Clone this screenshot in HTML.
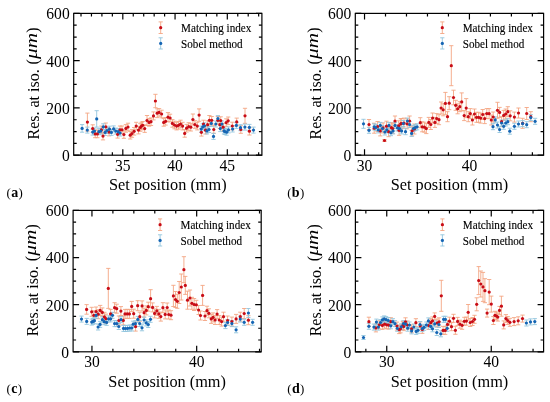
<!DOCTYPE html>
<html><head><meta charset="utf-8"><style>
html,body{margin:0;padding:0;background:#fff;}
svg{display:block;will-change:transform;}
text{font-family:"Liberation Serif",serif;fill:#000;}
.lg{stroke:#000;stroke-width:0.12px;}
</style></head><body>
<svg width="550" height="402" viewBox="0 0 550 402">
<rect width="550" height="402" fill="#fff"/>
<g id="pa"><path d="M87.4 113.1V131.1M85.3 113.1H89.5M85.3 131.1H89.5M92.7 124.8V132.4M90.6 124.8H94.8M90.6 132.4H94.8M95.2 130.1V137.7M93.1 130.1H97.3M93.1 137.7H97.3M97.4 130.1V137.7M95.3 130.1H99.5M95.3 137.7H99.5M101.4 126.1V133.7M99.3 126.1H103.5M99.3 133.7H103.5M103 132.3V139.9M100.9 132.3H105.1M100.9 139.9H105.1M105.8 123V130.6M103.7 123H107.9M103.7 130.6H107.9M109.1 128.3V135.9M107 128.3H111.2M107 135.9H111.2M117.6 130.5V138.1M115.5 130.5H119.7M115.5 138.1H119.7M120 126V133.6M117.9 126H122.1M117.9 133.6H122.1M122 126V133.6M119.9 126H124.1M119.9 133.6H124.1M123.9 130.7V138.3M121.8 130.7H126M121.8 138.3H126M125.9 124.6V132.2M123.8 124.6H128M123.8 132.2H128M128 123.2V130.8M125.9 123.2H130.1M125.9 130.8H130.1M130.2 131.4V139M128.1 131.4H132.3M128.1 139H132.3M132 129.7V137.3M129.9 129.7H134.1M129.9 137.3H134.1M134.1 127.5V135.1M132 127.5H136.2M132 135.1H136.2M136.2 122.3V129.9M134.1 122.3H138.3M134.1 129.9H138.3M138.5 126.3V133.9M136.4 126.3H140.6M136.4 133.9H140.6M140.3 123.7V131.3M138.2 123.7H142.4M138.2 131.3H142.4M141.5 122.3V129.9M139.4 122.3H143.6M139.4 129.9H143.6M142.7 121.5V129.1M140.6 121.5H144.8M140.6 129.1H144.8M144.7 124.8V132.4M142.6 124.8H146.8M142.6 132.4H146.8M147 115.5V125.5M144.9 115.5H149.1M144.9 125.5H149.1M149.1 118.6V126.2M147 118.6H151.2M147 126.2H151.2M151 117.9V125.5M148.9 117.9H153.1M148.9 125.5H153.1M153.5 111.9V119.9M151.4 111.9H155.6M151.4 119.9H155.6M155.4 94.3V107.7M153.3 94.3H157.5M153.3 107.7H157.5M157.2 108.8V117.6M155.1 108.8H159.3M155.1 117.6H159.3M159.1 108.6V116.2M157 108.6H161.2M157 116.2H161.2M161.6 110.2V117.8M159.5 110.2H163.7M159.5 117.8H163.7M163.7 118.6V126.2M161.6 118.6H165.8M161.6 126.2H165.8M165.6 117.5V125.1M163.5 117.5H167.7M163.5 125.1H167.7M168 112.6V121.8M165.9 112.6H170.1M165.9 121.8H170.1M170.1 114.2V121.8M168 114.2H172.2M168 121.8H172.2M172.4 119.6V127.2M170.3 119.6H174.5M170.3 127.2H174.5M174.5 121.2V128.8M172.4 121.2H176.6M172.4 128.8H176.6M176.6 122.3V129.9M174.5 122.3H178.7M174.5 129.9H178.7M178.5 121.5V129.1M176.4 121.5H180.6M176.4 129.1H180.6M180.5 120.2V127.8M178.4 120.2H182.6M178.4 127.8H182.6M182.6 122.3V129.9M180.5 122.3H184.7M180.5 129.9H184.7M184.7 129.6V137.2M182.6 129.6H186.8M182.6 137.2H186.8M186.6 124.4V132M184.5 124.4H188.7M184.5 132H188.7M188.7 122.7V130.3M186.6 122.7H190.8M186.6 130.3H190.8M190.8 123.4V131M188.7 123.4H192.9M188.7 131H192.9M192.9 114V125M190.8 114H195M190.8 125H195M194.9 120.7V128.3M192.8 120.7H197M192.8 128.3H197M197.3 122.3V129.9M195.2 122.3H199.4M195.2 129.9H199.4M199.1 108.9V121.3M197 108.9H201.2M197 121.3H201.2M201.4 128.5V136.1M199.3 128.5H203.5M199.3 136.1H203.5M203.5 120.2V127.8M201.4 120.2H205.6M201.4 127.8H205.6M205.5 126.4V134M203.4 126.4H207.6M203.4 134H207.6M207.6 120.9V128.5M205.5 120.9H209.7M205.5 128.5H209.7M209.4 115.5V125.1M207.3 115.5H211.5M207.3 125.1H211.5M211.7 116.5V124.1M209.6 116.5H213.8M209.6 124.1H213.8M213.8 125.7V133.3M211.7 125.7H215.9M211.7 133.3H215.9M217.9 116.5V124.1M215.8 116.5H220M215.8 124.1H220M219.9 120.9V128.5M217.8 120.9H222M217.8 128.5H222M220.7 116.8V124.4M218.6 116.8H222.8M218.6 124.4H222.8M223.1 123.4V131M221 123.4H225.2M221 131H225.2M226.2 118.8V126.4M224.1 118.8H228.3M224.1 126.4H228.3M228.2 117V124.6M226.1 117H230.3M226.1 124.6H230.3M232.3 122.2V129.8M230.2 122.2H234.4M230.2 129.8H234.4M236.7 118.1V125.7M234.6 118.1H238.8M234.6 125.7H238.8M240.8 125.7V133.3M238.7 125.7H242.9M238.7 133.3H242.9M245 108.3V123.3M242.9 108.3H247.1M242.9 123.3H247.1M249.4 127.4V135M247.3 127.4H251.5M247.3 135H251.5" stroke="#f4a582" stroke-width="0.9" fill="none"/>
<path d="M82.1 124.6V132.2M80 124.6H84.2M80 132.2H84.2M87.3 127.1V133.1M85.2 127.1H89.4M85.2 133.1H89.4M92.7 129.1V135.1M90.6 129.1H94.8M90.6 135.1H94.8M94.5 128.1V134.1M92.4 128.1H96.6M92.4 134.1H96.6M96.7 110.7V127.1M94.6 110.7H98.8M94.6 127.1H98.8M98.9 128.7V134.7M96.8 128.7H101M96.8 134.7H101M100.8 128.1V134.1M98.7 128.1H102.9M98.7 134.1H102.9M103.3 123.8V129.8M101.2 123.8H105.4M101.2 129.8H105.4M105.1 129.4V135.4M103 129.4H107.2M103 135.4H107.2M107 127.5V133.5M104.9 127.5H109.1M104.9 133.5H109.1M109.5 126.2V132.2M107.4 126.2H111.6M107.4 132.2H111.6M111.4 129.4V135.4M109.3 129.4H113.5M109.3 135.4H113.5M113.6 125.9V131.9M111.5 125.9H115.7M111.5 131.9H115.7M115.7 128.1V134.1M113.6 128.1H117.8M113.6 134.1H117.8M118.2 128.7V134.7M116.1 128.7H120.3M116.1 134.7H120.3M120.1 130V136M118 130H122.2M118 136H122.2M201.2 126.1V132.1M199.1 126.1H203.3M199.1 132.1H203.3M202.8 123.8V129.8M200.7 123.8H204.9M200.7 129.8H204.9M204.5 122.8V128.8M202.4 122.8H206.6M202.4 128.8H206.6M206.9 127.9V133.9M204.8 127.9H209M204.8 133.9H209M209 126.5V132.5M206.9 126.5H211.1M206.9 132.5H211.1M211.3 120.4V126.4M209.2 120.4H213.4M209.2 126.4H213.4M213.5 133.4V139.4M211.4 133.4H215.6M211.4 139.4H215.6M215.8 121V127M213.7 121H217.9M213.7 127H217.9M217.9 115.6V121.6M215.8 115.6H220M215.8 121.6H220M220.3 125.6V131.6M218.2 125.6H222.4M218.2 131.6H222.4M222 121V127M219.9 121H224.1M219.9 127H224.1M224 127.9V133.9M221.9 127.9H226.1M221.9 133.9H226.1M224.8 128.5V134.5M222.7 128.5H226.9M222.7 134.5H226.9M226.6 129.2V135.2M224.5 129.2H228.7M224.5 135.2H228.7M228.5 126.9V132.9M226.4 126.9H230.6M226.4 132.9H230.6M232.6 126V132M230.5 126H234.7M230.5 132H234.7M236.4 122.4V128.4M234.3 122.4H238.5M234.3 128.4H238.5M240.5 124.7V130.7M238.4 124.7H242.6M238.4 130.7H242.6M244.9 124.1V130.1M242.8 124.1H247M242.8 130.1H247M249.4 124.4V130.4M247.3 124.4H251.5M247.3 130.4H251.5M253.5 127.1V133.1M251.4 127.1H255.6M251.4 133.1H255.6" stroke="#92c5de" stroke-width="0.9" fill="none"/>
<g fill="#c80c16"><circle cx="87.4" cy="122.1" r="1.6"/><circle cx="92.7" cy="128.6" r="1.6"/><circle cx="95.2" cy="133.9" r="1.6"/><circle cx="97.4" cy="133.9" r="1.6"/><circle cx="101.4" cy="129.9" r="1.6"/><circle cx="103" cy="136.1" r="1.6"/><circle cx="105.8" cy="126.8" r="1.6"/><circle cx="109.1" cy="132.1" r="1.6"/><circle cx="117.6" cy="134.3" r="1.6"/><circle cx="120" cy="129.8" r="1.6"/><circle cx="122" cy="129.8" r="1.6"/><circle cx="123.9" cy="134.5" r="1.6"/><circle cx="125.9" cy="128.4" r="1.6"/><circle cx="128" cy="127" r="1.6"/><circle cx="130.2" cy="135.2" r="1.6"/><circle cx="132" cy="133.5" r="1.6"/><circle cx="134.1" cy="131.3" r="1.6"/><circle cx="136.2" cy="126.1" r="1.6"/><circle cx="138.5" cy="130.1" r="1.6"/><circle cx="140.3" cy="127.5" r="1.6"/><circle cx="141.5" cy="126.1" r="1.6"/><circle cx="142.7" cy="125.3" r="1.6"/><circle cx="144.7" cy="128.6" r="1.6"/><circle cx="147" cy="120.5" r="1.6"/><circle cx="149.1" cy="122.4" r="1.6"/><circle cx="151" cy="121.7" r="1.6"/><circle cx="153.5" cy="115.9" r="1.6"/><circle cx="155.4" cy="101" r="1.6"/><circle cx="157.2" cy="113.2" r="1.6"/><circle cx="159.1" cy="112.4" r="1.6"/><circle cx="161.6" cy="114" r="1.6"/><circle cx="163.7" cy="122.4" r="1.6"/><circle cx="165.6" cy="121.3" r="1.6"/><circle cx="168" cy="117.2" r="1.6"/><circle cx="170.1" cy="118" r="1.6"/><circle cx="172.4" cy="123.4" r="1.6"/><circle cx="174.5" cy="125" r="1.6"/><circle cx="176.6" cy="126.1" r="1.6"/><circle cx="178.5" cy="125.3" r="1.6"/><circle cx="180.5" cy="124" r="1.6"/><circle cx="182.6" cy="126.1" r="1.6"/><circle cx="184.7" cy="133.4" r="1.6"/><circle cx="186.6" cy="128.2" r="1.6"/><circle cx="188.7" cy="126.5" r="1.6"/><circle cx="190.8" cy="127.2" r="1.6"/><circle cx="192.9" cy="119.5" r="1.6"/><circle cx="194.9" cy="124.5" r="1.6"/><circle cx="197.3" cy="126.1" r="1.6"/><circle cx="199.1" cy="115.1" r="1.6"/><circle cx="201.4" cy="132.3" r="1.6"/><circle cx="203.5" cy="124" r="1.6"/><circle cx="205.5" cy="130.2" r="1.6"/><circle cx="207.6" cy="124.7" r="1.6"/><circle cx="209.4" cy="120.3" r="1.6"/><circle cx="211.7" cy="120.3" r="1.6"/><circle cx="213.8" cy="129.5" r="1.6"/><circle cx="217.9" cy="120.3" r="1.6"/><circle cx="219.9" cy="124.7" r="1.6"/><circle cx="220.7" cy="120.6" r="1.6"/><circle cx="223.1" cy="127.2" r="1.6"/><circle cx="226.2" cy="122.6" r="1.6"/><circle cx="228.2" cy="120.8" r="1.6"/><circle cx="232.3" cy="126" r="1.6"/><circle cx="236.7" cy="121.9" r="1.6"/><circle cx="240.8" cy="129.5" r="1.6"/><circle cx="245" cy="115.8" r="1.6"/><circle cx="249.4" cy="131.2" r="1.6"/></g>
<g fill="#1565b4"><circle cx="82.1" cy="128.4" r="1.6"/><circle cx="87.3" cy="130.1" r="1.6"/><circle cx="92.7" cy="132.1" r="1.6"/><circle cx="94.5" cy="131.1" r="1.6"/><circle cx="96.7" cy="118.9" r="1.6"/><circle cx="98.9" cy="131.7" r="1.6"/><circle cx="100.8" cy="131.1" r="1.6"/><circle cx="103.3" cy="126.8" r="1.6"/><circle cx="105.1" cy="132.4" r="1.6"/><circle cx="107" cy="130.5" r="1.6"/><circle cx="109.5" cy="129.2" r="1.6"/><circle cx="111.4" cy="132.4" r="1.6"/><circle cx="113.6" cy="128.9" r="1.6"/><circle cx="115.7" cy="131.1" r="1.6"/><circle cx="118.2" cy="131.7" r="1.6"/><circle cx="120.1" cy="133" r="1.6"/><circle cx="201.2" cy="129.1" r="1.6"/><circle cx="202.8" cy="126.8" r="1.6"/><circle cx="204.5" cy="125.8" r="1.6"/><circle cx="206.9" cy="130.9" r="1.6"/><circle cx="209" cy="129.5" r="1.6"/><circle cx="211.3" cy="123.4" r="1.6"/><circle cx="213.5" cy="136.4" r="1.6"/><circle cx="215.8" cy="124" r="1.6"/><circle cx="217.9" cy="118.6" r="1.6"/><circle cx="220.3" cy="128.6" r="1.6"/><circle cx="222" cy="124" r="1.6"/><circle cx="224" cy="130.9" r="1.6"/><circle cx="224.8" cy="131.5" r="1.6"/><circle cx="226.6" cy="132.2" r="1.6"/><circle cx="228.5" cy="129.9" r="1.6"/><circle cx="232.6" cy="129" r="1.6"/><circle cx="236.4" cy="125.4" r="1.6"/><circle cx="240.5" cy="127.7" r="1.6"/><circle cx="244.9" cy="127.1" r="1.6"/><circle cx="249.4" cy="127.4" r="1.6"/><circle cx="253.5" cy="130.1" r="1.6"/></g>
<rect x="73.7" y="13.4" width="188.2" height="141.8" fill="none" stroke="#000" stroke-width="1.2"/>
<path d="M81.01 155.2v-3M81.01 13.4v3M91.46 155.2v-3M91.46 13.4v3M101.91 155.2v-3M101.91 13.4v3M112.36 155.2v-3M112.36 13.4v3M122.81 155.2v-6M122.81 13.4v6M133.26 155.2v-3M133.26 13.4v3M143.71 155.2v-3M143.71 13.4v3M154.16 155.2v-3M154.16 13.4v3M164.61 155.2v-3M164.61 13.4v3M175.06 155.2v-6M175.06 13.4v6M185.51 155.2v-3M185.51 13.4v3M195.96 155.2v-3M195.96 13.4v3M206.41 155.2v-3M206.41 13.4v3M216.86 155.2v-3M216.86 13.4v3M227.31 155.2v-6M227.31 13.4v6M237.76 155.2v-3M237.76 13.4v3M248.21 155.2v-3M248.21 13.4v3M258.66 155.2v-3M258.66 13.4v3M73.7 155.2h6M261.9 155.2h-6M73.7 143.38h3M261.9 143.38h-3M73.7 131.57h3M261.9 131.57h-3M73.7 119.75h3M261.9 119.75h-3M73.7 107.93h6M261.9 107.93h-6M73.7 96.12h3M261.9 96.12h-3M73.7 84.3h3M261.9 84.3h-3M73.7 72.48h3M261.9 72.48h-3M73.7 60.67h6M261.9 60.67h-6M73.7 48.85h3M261.9 48.85h-3M73.7 37.03h3M261.9 37.03h-3M73.7 25.22h3M261.9 25.22h-3M73.7 13.4h6M261.9 13.4h-6" stroke="#000" stroke-width="1.2" fill="none"/>
<text transform="translate(122.81 170.8) scale(1 1.06)" font-size="15.6" text-anchor="middle">35</text>
<text transform="translate(175.06 170.8) scale(1 1.06)" font-size="15.6" text-anchor="middle">40</text>
<text transform="translate(227.31 170.8) scale(1 1.06)" font-size="15.6" text-anchor="middle">45</text>
<text transform="translate(69.7 161.1) scale(1 1.06)" font-size="15.6" text-anchor="end">0</text>
<text transform="translate(69.7 113.83) scale(1 1.06)" font-size="15.6" text-anchor="end">200</text>
<text transform="translate(69.7 66.57) scale(1 1.06)" font-size="15.6" text-anchor="end">400</text>
<text transform="translate(69.7 19.3) scale(1 1.06)" font-size="15.6" text-anchor="end">600</text>
<text x="167.8" y="190" font-size="16.3" text-anchor="middle">Set position (mm)</text>
<g transform="translate(38.9 0) rotate(-90)" font-size="16"><text x="-139.5" y="0">Res. at iso.</text><text x="-64.4" y="-1.2">(</text><text x="-58.9" y="-2.2" font-style="italic" textLength="26" lengthAdjust="spacingAndGlyphs">μm</text><text x="-32.7" y="-1.2">)</text></g>
<path d="M160.7 21.9V33.5M158.6 21.9H162.8M158.6 33.5H162.8" stroke="#f4a582" stroke-width="0.9" fill="none"/>
<circle cx="160.7" cy="27.7" r="1.6" fill="#c80c16"/>
<path d="M160.7 37.8V49M158.6 37.8H162.8M158.6 49H162.8" stroke="#92c5de" stroke-width="0.9" fill="none"/>
<circle cx="160.7" cy="43.4" r="1.6" fill="#1565b4"/>
<text transform="translate(181.1 31.8) scale(1 1.12)" font-size="11.15" class="lg">Matching index</text>
<text transform="translate(181.1 47.6) scale(1 1.12)" font-size="11.15" class="lg">Sobel method</text>
<text x="6.6" y="196.9" font-size="14" style="stroke:none"><tspan font-size="12.9">(</tspan><tspan font-weight="bold" dx="0.3">a</tspan><tspan font-size="12.9" dx="0.3">)</tspan></text></g>
<g id="pb"><path d="M369 119.5V129.5M366.9 119.5H371.1M366.9 129.5H371.1M374.2 123.2V133.2M372.1 123.2H376.3M372.1 133.2H376.3M377.6 121.5V131.5M375.5 121.5H379.7M375.5 131.5H379.7M380.3 125.9V135.9M378.2 125.9H382.4M378.2 135.9H382.4M383.1 122.9V132.9M381 122.9H385.2M381 132.9H385.2M384.5 139.5V141.5M382.4 139.5H386.6M382.4 141.5H386.6M386.5 121.2V131.2M384.4 121.2H388.6M384.4 131.2H388.6M388.6 126.7V136.7M386.5 126.7H390.7M386.5 136.7H390.7M391.3 122.6V132.6M389.2 122.6H393.4M389.2 132.6H393.4M392.7 123.6V133.6M390.6 123.6H394.8M390.6 133.6H394.8M395 116V126M392.9 116H397.1M392.9 126H397.1M398.6 120.8V130.8M396.5 120.8H400.7M396.5 130.8H400.7M399.1 125.3V135.3M397 125.3H401.2M397 135.3H401.2M400.7 118.8V128.8M398.6 118.8H402.8M398.6 128.8H402.8M401.3 118.5V128.5M399.2 118.5H403.4M399.2 128.5H403.4M404 118.1V128.1M401.9 118.1H406.1M401.9 128.1H406.1M407.1 118.8V128.8M405 118.8H409.2M405 128.8H409.2M409.6 116V126M407.5 116H411.7M407.5 126H411.7M412.1 125.9V135.9M410 125.9H414.2M410 135.9H414.2M414.4 124V134M412.3 124H416.5M412.3 134H416.5M420.3 117.7V127.7M418.2 117.7H422.4M418.2 127.7H422.4M422.2 121.8V131.8M420.1 121.8H424.3M420.1 131.8H424.3M424.4 122.2V132.2M422.3 122.2H426.5M422.3 132.2H426.5M426.3 123.6V133.6M424.2 123.6H428.4M424.2 133.6H428.4M428.8 117.4V127.4M426.7 117.4H430.9M426.7 127.4H430.9M430.8 119.5V129.5M428.7 119.5H432.9M428.7 129.5H432.9M432.6 113V123M430.5 113H434.7M430.5 123H434.7M434.9 117.4V127.4M432.8 117.4H437M432.8 127.4H437M436.7 113.6V123.6M434.6 113.6H438.8M434.6 123.6H438.8M439 114.7V124.7M436.9 114.7H441.1M436.9 124.7H441.1M441.1 102V114M439 102H443.2M439 114H443.2M443.2 103.8V115.8M441.1 103.8H445.3M441.1 115.8H445.3M445.4 92.4V114.4M443.3 92.4H447.5M443.3 114.4H447.5M447.5 111.7V121.7M445.4 111.7H449.6M445.4 121.7H449.6M449.2 96.7V109.7M447.1 96.7H451.3M447.1 109.7H451.3M451.3 45.7V85.7M449.2 45.7H453.4M449.2 85.7H453.4M453.5 90.2V104.8M451.4 90.2H455.6M451.4 104.8H455.6M455.7 100.3V110.3M453.6 100.3H457.8M453.6 110.3H457.8M457.6 103.8V113.8M455.5 103.8H459.7M455.5 113.8H459.7M459.8 101.7V111.7M457.7 101.7H461.9M457.7 111.7H461.9M461.7 92.9V110.9M459.6 92.9H463.8M459.6 110.9H463.8M464.2 110.6V120.6M462.1 110.6H466.3M462.1 120.6H466.3M466.2 98.6V117.6M464.1 98.6H468.3M464.1 117.6H468.3M468.3 111.7V121.7M466.2 111.7H470.4M466.2 121.7H470.4M470.3 108.6V118.6M468.2 108.6H472.4M468.2 118.6H472.4M472.4 115V125M470.3 115H474.5M470.3 125H474.5M474.5 109V119M472.4 109H476.6M472.4 119H476.6M476.5 112.3V122.3M474.4 112.3H478.6M474.4 122.3H478.6M478.6 112.3V122.3M476.5 112.3H480.7M476.5 122.3H480.7M480.6 113.1V123.1M478.5 113.1H482.7M478.5 123.1H482.7M482.7 109.5V119.5M480.6 109.5H484.8M480.6 119.5H484.8M484.7 113.6V123.6M482.6 113.6H486.8M482.6 123.6H486.8M486.8 108.6V118.6M484.7 108.6H488.9M484.7 118.6H488.9M489.1 108.6V118.6M487 108.6H491.2M487 118.6H491.2M491.3 115V125M489.2 115H493.4M489.2 125H493.4M493.2 112V122M491.1 112H495.3M491.1 122H495.3M497.5 102.3V118.3M495.4 102.3H499.6M495.4 118.3H499.6M499.6 107.4V117.4M497.5 107.4H501.7M497.5 117.4H501.7M501.6 116.7V126.7M499.5 116.7H503.7M499.5 126.7H503.7M503.7 110.4V120.4M501.6 110.4H505.8M501.6 120.4H505.8M505.7 109V119M503.6 109H507.8M503.6 119H507.8M507.8 106.7V116.7M505.7 106.7H509.9M505.7 116.7H509.9M510.2 110.8V120.8M508.1 110.8H512.3M508.1 120.8H512.3M514.4 112.1V122.1M512.3 112.1H516.5M512.3 122.1H516.5M518.5 108V118M516.4 108H520.6M516.4 118H520.6M522.6 118.3V128.3M520.5 118.3H524.7M520.5 128.3H524.7M526.7 107.5V119.5M524.6 107.5H528.8M524.6 119.5H528.8M530.8 111.7V121.7M528.7 111.7H532.9M528.7 121.7H532.9" stroke="#f4a582" stroke-width="0.9" fill="none"/>
<path d="M363.5 119.3V128.3M361.4 119.3H365.6M361.4 128.3H365.6M369 127.3V133.3M366.9 127.3H371.1M366.9 133.3H371.1M374.2 123.8V129.8M372.1 123.8H376.3M372.1 129.8H376.3M375.8 124.6V130.6M373.7 124.6H377.9M373.7 130.6H377.9M378.3 126.9V132.9M376.2 126.9H380.4M376.2 132.9H380.4M380.3 122.4V128.4M378.2 122.4H382.4M378.2 128.4H382.4M382.4 125.6V131.6M380.3 125.6H384.5M380.3 131.6H384.5M384.9 129V135M382.8 129H387M382.8 135H387M386.8 126.9V132.9M384.7 126.9H388.9M384.7 132.9H388.9M389 122.4V128.4M386.9 122.4H391.1M386.9 128.4H391.1M390.9 129.7V135.7M388.8 129.7H393M388.8 135.7H393M393.1 127.9V133.9M391 127.9H395.2M391 133.9H395.2M395 122.4V128.4M392.9 122.4H397.1M392.9 128.4H397.1M397.5 124.9V130.9M395.4 124.9H399.6M395.4 130.9H399.6M399.5 125.6V131.6M397.4 125.6H401.6M397.4 131.6H401.6M401.6 127.9V133.9M399.5 127.9H403.7M399.5 133.9H403.7M403.3 120.5V126.5M401.2 120.5H405.4M401.2 126.5H405.4M405.5 128.7V134.7M403.4 128.7H407.6M403.4 134.7H407.6M407.5 118V124M405.4 118H409.6M405.4 124H409.6M409.6 121.5V127.5M407.5 121.5H411.7M407.5 127.5H411.7M411.6 130.4V136.4M409.5 130.4H413.7M409.5 136.4H413.7M413.4 125.6V131.6M411.3 125.6H415.5M411.3 131.6H415.5M415.3 124.6V130.6M413.2 124.6H417.4M413.2 130.6H417.4M417.1 123.8V129.8M415 123.8H419.2M415 129.8H419.2M493 123.7V129.7M490.9 123.7H495.1M490.9 129.7H495.1M495.2 116.9V122.9M493.1 116.9H497.3M493.1 122.9H497.3M497.5 122V128M495.4 122H499.6M495.4 128H499.6M499.6 126.5V132.5M497.5 126.5H501.7M497.5 132.5H501.7M501.6 120V126M499.5 120H503.7M499.5 126H503.7M503.7 123.3V129.3M501.6 123.3H505.8M501.6 129.3H505.8M505.7 120V126M503.6 120H507.8M503.6 126H507.8M507.8 118.7V124.7M505.7 118.7H509.9M505.7 124.7H509.9M509.8 128.2V134.2M507.7 128.2H511.9M507.7 134.2H511.9M514.4 123.3V129.3M512.3 123.3H516.5M512.3 129.3H516.5M518.5 121V127M516.4 121H520.6M516.4 127H520.6M522.6 120.6V126.6M520.5 120.6H524.7M520.5 126.6H524.7M526.7 121.7V127.7M524.6 121.7H528.8M524.6 127.7H528.8M530.8 114.6V120.6M528.7 114.6H532.9M528.7 120.6H532.9M535.1 118.3V124.3M533 118.3H537.2M533 124.3H537.2" stroke="#92c5de" stroke-width="0.9" fill="none"/>
<g fill="#c80c16"><circle cx="369" cy="124.5" r="1.6"/><circle cx="374.2" cy="128.2" r="1.6"/><circle cx="377.6" cy="126.5" r="1.6"/><circle cx="380.3" cy="130.9" r="1.6"/><circle cx="383.1" cy="127.9" r="1.6"/><circle cx="384.5" cy="140.5" r="1.6"/><circle cx="386.5" cy="126.2" r="1.6"/><circle cx="388.6" cy="131.7" r="1.6"/><circle cx="391.3" cy="127.6" r="1.6"/><circle cx="392.7" cy="128.6" r="1.6"/><circle cx="395" cy="121" r="1.6"/><circle cx="398.6" cy="125.8" r="1.6"/><circle cx="399.1" cy="130.3" r="1.6"/><circle cx="400.7" cy="123.8" r="1.6"/><circle cx="401.3" cy="123.5" r="1.6"/><circle cx="404" cy="123.1" r="1.6"/><circle cx="407.1" cy="123.8" r="1.6"/><circle cx="409.6" cy="121" r="1.6"/><circle cx="412.1" cy="130.9" r="1.6"/><circle cx="414.4" cy="129" r="1.6"/><circle cx="420.3" cy="122.7" r="1.6"/><circle cx="422.2" cy="126.8" r="1.6"/><circle cx="424.4" cy="127.2" r="1.6"/><circle cx="426.3" cy="128.6" r="1.6"/><circle cx="428.8" cy="122.4" r="1.6"/><circle cx="430.8" cy="124.5" r="1.6"/><circle cx="432.6" cy="118" r="1.6"/><circle cx="434.9" cy="122.4" r="1.6"/><circle cx="436.7" cy="118.6" r="1.6"/><circle cx="439" cy="119.7" r="1.6"/><circle cx="441.1" cy="108" r="1.6"/><circle cx="443.2" cy="109.8" r="1.6"/><circle cx="445.4" cy="103.4" r="1.6"/><circle cx="447.5" cy="116.7" r="1.6"/><circle cx="449.2" cy="103.2" r="1.6"/><circle cx="451.3" cy="65.7" r="1.6"/><circle cx="453.5" cy="97.5" r="1.6"/><circle cx="455.7" cy="105.3" r="1.6"/><circle cx="457.6" cy="108.8" r="1.6"/><circle cx="459.8" cy="106.7" r="1.6"/><circle cx="461.7" cy="101.9" r="1.6"/><circle cx="464.2" cy="115.6" r="1.6"/><circle cx="466.2" cy="108.1" r="1.6"/><circle cx="468.3" cy="116.7" r="1.6"/><circle cx="470.3" cy="113.6" r="1.6"/><circle cx="472.4" cy="120" r="1.6"/><circle cx="474.5" cy="114" r="1.6"/><circle cx="476.5" cy="117.3" r="1.6"/><circle cx="478.6" cy="117.3" r="1.6"/><circle cx="480.6" cy="118.1" r="1.6"/><circle cx="482.7" cy="114.5" r="1.6"/><circle cx="484.7" cy="118.6" r="1.6"/><circle cx="486.8" cy="113.6" r="1.6"/><circle cx="489.1" cy="113.6" r="1.6"/><circle cx="491.3" cy="120" r="1.6"/><circle cx="493.2" cy="117" r="1.6"/><circle cx="497.5" cy="110.3" r="1.6"/><circle cx="499.6" cy="112.4" r="1.6"/><circle cx="501.6" cy="121.7" r="1.6"/><circle cx="503.7" cy="115.4" r="1.6"/><circle cx="505.7" cy="114" r="1.6"/><circle cx="507.8" cy="111.7" r="1.6"/><circle cx="510.2" cy="115.8" r="1.6"/><circle cx="514.4" cy="117.1" r="1.6"/><circle cx="518.5" cy="113" r="1.6"/><circle cx="522.6" cy="123.3" r="1.6"/><circle cx="526.7" cy="113.5" r="1.6"/><circle cx="530.8" cy="116.7" r="1.6"/></g>
<g fill="#1565b4"><circle cx="363.5" cy="123.8" r="1.6"/><circle cx="369" cy="130.3" r="1.6"/><circle cx="374.2" cy="126.8" r="1.6"/><circle cx="375.8" cy="127.6" r="1.6"/><circle cx="378.3" cy="129.9" r="1.6"/><circle cx="380.3" cy="125.4" r="1.6"/><circle cx="382.4" cy="128.6" r="1.6"/><circle cx="384.9" cy="132" r="1.6"/><circle cx="386.8" cy="129.9" r="1.6"/><circle cx="389" cy="125.4" r="1.6"/><circle cx="390.9" cy="132.7" r="1.6"/><circle cx="393.1" cy="130.9" r="1.6"/><circle cx="395" cy="125.4" r="1.6"/><circle cx="397.5" cy="127.9" r="1.6"/><circle cx="399.5" cy="128.6" r="1.6"/><circle cx="401.6" cy="130.9" r="1.6"/><circle cx="403.3" cy="123.5" r="1.6"/><circle cx="405.5" cy="131.7" r="1.6"/><circle cx="407.5" cy="121" r="1.6"/><circle cx="409.6" cy="124.5" r="1.6"/><circle cx="411.6" cy="133.4" r="1.6"/><circle cx="413.4" cy="128.6" r="1.6"/><circle cx="415.3" cy="127.6" r="1.6"/><circle cx="417.1" cy="126.8" r="1.6"/><circle cx="493" cy="126.7" r="1.6"/><circle cx="495.2" cy="119.9" r="1.6"/><circle cx="497.5" cy="125" r="1.6"/><circle cx="499.6" cy="129.5" r="1.6"/><circle cx="501.6" cy="123" r="1.6"/><circle cx="503.7" cy="126.3" r="1.6"/><circle cx="505.7" cy="123" r="1.6"/><circle cx="507.8" cy="121.7" r="1.6"/><circle cx="509.8" cy="131.2" r="1.6"/><circle cx="514.4" cy="126.3" r="1.6"/><circle cx="518.5" cy="124" r="1.6"/><circle cx="522.6" cy="123.6" r="1.6"/><circle cx="526.7" cy="124.7" r="1.6"/><circle cx="530.8" cy="117.6" r="1.6"/><circle cx="535.1" cy="121.3" r="1.6"/></g>
<rect x="355.3" y="13.4" width="188.3" height="141.8" fill="none" stroke="#000" stroke-width="1.2"/>
<path d="M364.53 155.2v-6M364.53 13.4v6M385.51 155.2v-3M385.51 13.4v3M406.49 155.2v-3M406.49 13.4v3M427.47 155.2v-3M427.47 13.4v3M448.45 155.2v-3M448.45 13.4v3M469.43 155.2v-6M469.43 13.4v6M490.41 155.2v-3M490.41 13.4v3M511.39 155.2v-3M511.39 13.4v3M532.38 155.2v-3M532.38 13.4v3M355.3 155.2h6M543.6 155.2h-6M355.3 143.38h3M543.6 143.38h-3M355.3 131.57h3M543.6 131.57h-3M355.3 119.75h3M543.6 119.75h-3M355.3 107.93h6M543.6 107.93h-6M355.3 96.12h3M543.6 96.12h-3M355.3 84.3h3M543.6 84.3h-3M355.3 72.48h3M543.6 72.48h-3M355.3 60.67h6M543.6 60.67h-6M355.3 48.85h3M543.6 48.85h-3M355.3 37.03h3M543.6 37.03h-3M355.3 25.22h3M543.6 25.22h-3M355.3 13.4h6M543.6 13.4h-6" stroke="#000" stroke-width="1.2" fill="none"/>
<text transform="translate(364.53 170.8) scale(1 1.06)" font-size="15.6" text-anchor="middle">30</text>
<text transform="translate(469.43 170.8) scale(1 1.06)" font-size="15.6" text-anchor="middle">40</text>
<text transform="translate(351.3 161.1) scale(1 1.06)" font-size="15.6" text-anchor="end">0</text>
<text transform="translate(351.3 113.83) scale(1 1.06)" font-size="15.6" text-anchor="end">200</text>
<text transform="translate(351.3 66.57) scale(1 1.06)" font-size="15.6" text-anchor="end">400</text>
<text transform="translate(351.3 19.3) scale(1 1.06)" font-size="15.6" text-anchor="end">600</text>
<text x="449.45" y="190" font-size="16.3" text-anchor="middle">Set position (mm)</text>
<g transform="translate(320.5 0) rotate(-90)" font-size="16"><text x="-139.5" y="0">Res. at iso.</text><text x="-64.4" y="-1.2">(</text><text x="-58.9" y="-2.2" font-style="italic" textLength="26" lengthAdjust="spacingAndGlyphs">μm</text><text x="-32.7" y="-1.2">)</text></g>
<path d="M442.3 21.9V33.5M440.2 21.9H444.4M440.2 33.5H444.4" stroke="#f4a582" stroke-width="0.9" fill="none"/>
<circle cx="442.3" cy="27.7" r="1.6" fill="#c80c16"/>
<path d="M442.3 37.8V49M440.2 37.8H444.4M440.2 49H444.4" stroke="#92c5de" stroke-width="0.9" fill="none"/>
<circle cx="442.3" cy="43.4" r="1.6" fill="#1565b4"/>
<text transform="translate(462.7 31.8) scale(1 1.12)" font-size="11.15" class="lg">Matching index</text>
<text transform="translate(462.7 47.6) scale(1 1.12)" font-size="11.15" class="lg">Sobel method</text>
<text x="287.2" y="196.9" font-size="14" style="stroke:none"><tspan font-size="12.9">(</tspan><tspan font-weight="bold" dx="0.3">b</tspan><tspan font-size="12.9" dx="0.3">)</tspan></text></g>
<g id="pc"><path d="M86.6 304.6V314.2M84.5 304.6H88.7M84.5 314.2H88.7M91.7 307.3V316.3M89.6 307.3H93.8M89.6 316.3H93.8M93.8 310.8V319.8M91.7 310.8H95.9M91.7 319.8H95.9M96.1 307V316M94 307H98.2M94 316H98.2M98.2 309.7V318.7M96.1 309.7H100.3M96.1 318.7H100.3M100.2 305.4V315.4M98.1 305.4H102.3M98.1 315.4H102.3M102.3 307.9V316.9M100.2 307.9H104.4M100.2 316.9H104.4M104.4 312.3V321.3M102.3 312.3H106.5M102.3 321.3H106.5M105.9 314.1V323.1M103.8 314.1H108M103.8 323.1H108M108.3 268.4V308.4M106.2 268.4H110.4M106.2 308.4H110.4M110.6 309.4V318.4M108.5 309.4H112.7M108.5 318.4H112.7M114.6 302.7V312.7M112.5 302.7H116.7M112.5 312.7H116.7M116.7 304.2V313.2M114.6 304.2H118.8M114.6 313.2H118.8M118.9 316V325M116.8 316H121M116.8 325H121M120.9 306.6V315.6M118.8 306.6H123M118.8 315.6H123M123.3 315.9V324.9M121.2 315.9H125.4M121.2 324.9H125.4M125 309.4V318.4M122.9 309.4H127.1M122.9 318.4H127.1M127.2 309.4V318.4M125.1 309.4H129.3M125.1 318.4H129.3M129.4 309.4V318.4M127.3 309.4H131.5M127.3 318.4H131.5M131.7 301.4V311.4M129.6 301.4H133.8M129.6 311.4H133.8M133.7 309.2V318.2M131.6 309.2H135.8M131.6 318.2H135.8M135.6 322.1V331.1M133.5 322.1H137.7M133.5 331.1H137.7M137.7 300.7V310.7M135.6 300.7H139.8M135.6 310.7H139.8M139.8 312.2V321.2M137.7 312.2H141.9M137.7 321.2H141.9M142.1 300.9V310.9M140 300.9H144.2M140 310.9H144.2M144.1 308.2V317.2M142 308.2H146.2M142 317.2H146.2M146.3 305.9V314.9M144.2 305.9H148.4M144.2 314.9H148.4M148.3 302.2V311.2M146.2 302.2H150.4M146.2 311.2H150.4M150.6 289.7V307.7M148.5 289.7H152.7M148.5 307.7H152.7M152.6 302.9V311.9M150.5 302.9H154.7M150.5 311.9H154.7M154.6 308.9V317.9M152.5 308.9H156.7M152.5 317.9H156.7M156.8 306.4V315.4M154.7 306.4H158.9M154.7 315.4H158.9M158.8 309.4V318.4M156.7 309.4H160.9M156.7 318.4H160.9M160.8 312.1V321.1M158.7 312.1H162.9M158.7 321.1H162.9M162.9 302.7V312.7M160.8 302.7H165M160.8 312.7H165M165.2 309.9V318.9M163.1 309.9H167.3M163.1 318.9H167.3M167.2 303V312M165.1 303H169.3M165.1 312H169.3M168.7 310V319M166.6 310H170.8M166.6 319H170.8M171 310.7V319.7M168.9 310.7H173.1M168.9 319.7H173.1M173.4 285.3V306.5M171.3 285.3H175.5M171.3 306.5H175.5M175.5 291.5V307.5M173.4 291.5H177.6M173.4 307.5H177.6M177.3 294.3V308.3M175.2 294.3H179.4M175.2 308.3H179.4M179.2 281.5V303.5M177.1 281.5H181.3M177.1 303.5H181.3M181.3 274V300M179.2 274H183.4M179.2 300H183.4M183.9 256.7V282.7M181.8 256.7H186M181.8 282.7H186M185.3 276.4V294.4M183.2 276.4H187.4M183.2 294.4H187.4M187.5 291.2V309.2M185.4 291.2H189.6M185.4 309.2H189.6M190 290V306M187.9 290H192.1M187.9 306H192.1M191.9 297.3V309.3M189.8 297.3H194M189.8 309.3H194M194.1 298.5V310.5M192 298.5H196.2M192 310.5H196.2M196.3 300.3V309.3M194.2 300.3H198.4M194.2 309.3H198.4M198.6 305.5V314.5M196.5 305.5H200.7M196.5 314.5H200.7M200.5 311V320M198.4 311H202.6M198.4 320H202.6M202.6 285.4V305.4M200.5 285.4H204.7M200.5 305.4H204.7M205 311.5V320.5M202.9 311.5H207.1M202.9 320.5H207.1M207 306.2V315.2M204.9 306.2H209.1M204.9 315.2H209.1M208.9 308.8V317.8M206.8 308.8H211M206.8 317.8H211M211.2 314.4V323.4M209.1 314.4H213.3M209.1 323.4H213.3M213.1 312.9V321.9M211 312.9H215.2M211 321.9H215.2M215.1 315.5V324.5M213 315.5H217.2M213 324.5H217.2M217.1 309.6V318.6M215 309.6H219.2M215 318.6H219.2M219.3 315.5V324.5M217.2 315.5H221.4M217.2 324.5H221.4M221.6 317.1V326.1M219.5 317.1H223.7M219.5 326.1H223.7M223.5 312.2V321.2M221.4 312.2H225.6M221.4 321.2H225.6M227.6 316V325M225.5 316H229.7M225.5 325H229.7M231.9 317.1V326.1M229.8 317.1H234M229.8 326.1H234M236.1 314.4V323.4M234 314.4H238.2M234 323.4H238.2M240.3 312.2V321.2M238.2 312.2H242.4M238.2 321.2H242.4M244.2 308.5V318.5M242.1 308.5H246.3M242.1 318.5H246.3M248.4 315.7V324.7M246.3 315.7H250.5M246.3 324.7H250.5" stroke="#f4a582" stroke-width="0.9" fill="none"/>
<path d="M81.5 316.1V322.1M79.4 316.1H83.6M79.4 322.1H83.6M86.7 318.4V324.4M84.6 318.4H88.8M84.6 324.4H88.8M91.7 319.1V325.1M89.6 319.1H93.8M89.6 325.1H93.8M93.1 318.4V324.4M91 318.4H95.2M91 324.4H95.2M94.4 317.7V323.7M92.3 317.7H96.5M92.3 323.7H96.5M96.1 312.4V318.4M94 312.4H98.2M94 318.4H98.2M98.1 324V330M96 324H100.2M96 330H100.2M100.1 321.4V327.4M98 321.4H102.2M98 327.4H102.2M102.4 316.7V322.7M100.3 316.7H104.5M100.3 322.7H104.5M104.3 318.7V324.7M102.2 318.7H106.4M102.2 324.7H106.4M106.6 319.4V325.4M104.5 319.4H108.7M104.5 325.4H108.7M108.6 315.9V321.9M106.5 315.9H110.7M106.5 321.9H110.7M110.6 315.9V321.9M108.5 315.9H112.7M108.5 321.9H112.7M112.5 312.3V318.3M110.4 312.3H114.6M110.4 318.3H114.6M114.6 320.6V326.6M112.5 320.6H116.7M112.5 326.6H116.7M116.8 320.6V326.6M114.7 320.6H118.9M114.7 326.6H118.9M118.8 323.5V329.5M116.7 323.5H120.9M116.7 329.5H120.9M121 316.6V322.6M118.9 316.6H123.1M118.9 322.6H123.1M123.5 325.4V331.4M121.4 325.4H125.6M121.4 331.4H125.6M125.5 325.5V331.5M123.4 325.5H127.6M123.4 331.5H127.6M127.6 325.3V331.3M125.5 325.3H129.7M125.5 331.3H129.7M129.8 325V331M127.7 325H131.9M127.7 331H131.9M131.8 325V331M129.7 325H133.9M129.7 331H133.9M133.2 321.2V327.2M131.1 321.2H135.3M131.1 327.2H135.3M135.4 320.7V326.7M133.3 320.7H137.5M133.3 326.7H137.5M137.8 316.4V322.4M135.7 316.4H139.9M135.7 322.4H139.9M139.7 320.5V326.5M137.6 320.5H141.8M137.6 326.5H141.8M142 324.8V330.8M139.9 324.8H144.1M139.9 330.8H144.1M144.1 317V323M142 317H146.2M142 323H146.2M146.3 319.9V325.9M144.2 319.9H148.4M144.2 325.9H148.4M148.3 321.5V327.5M146.2 321.5H150.4M146.2 327.5H150.4M150.5 316.3V322.3M148.4 316.3H152.6M148.4 322.3H152.6M225.4 322.6V328.6M223.3 322.6H227.5M223.3 328.6H227.5M227.6 319.5V325.5M225.5 319.5H229.7M225.5 325.5H229.7M231.9 320.6V326.6M229.8 320.6H234M229.8 326.6H234M236.1 326.8V332.8M234 326.8H238.2M234 332.8H238.2M240.3 316.1V322.1M238.2 316.1H242.4M238.2 322.1H242.4M244.2 319.3V325.3M242.1 319.3H246.3M242.1 325.3H246.3M248.4 308.5V317.5M246.3 308.5H250.5M246.3 317.5H250.5M252.6 319.3V325.3M250.5 319.3H254.7M250.5 325.3H254.7" stroke="#92c5de" stroke-width="0.9" fill="none"/>
<g fill="#c80c16"><circle cx="86.6" cy="309.4" r="1.6"/><circle cx="91.7" cy="311.8" r="1.6"/><circle cx="93.8" cy="315.3" r="1.6"/><circle cx="96.1" cy="311.5" r="1.6"/><circle cx="98.2" cy="314.2" r="1.6"/><circle cx="100.2" cy="310.4" r="1.6"/><circle cx="102.3" cy="312.4" r="1.6"/><circle cx="104.4" cy="316.8" r="1.6"/><circle cx="105.9" cy="318.6" r="1.6"/><circle cx="108.3" cy="288.4" r="1.6"/><circle cx="110.6" cy="313.9" r="1.6"/><circle cx="114.6" cy="307.7" r="1.6"/><circle cx="116.7" cy="308.7" r="1.6"/><circle cx="118.9" cy="320.5" r="1.6"/><circle cx="120.9" cy="311.1" r="1.6"/><circle cx="123.3" cy="320.4" r="1.6"/><circle cx="125" cy="313.9" r="1.6"/><circle cx="127.2" cy="313.9" r="1.6"/><circle cx="129.4" cy="313.9" r="1.6"/><circle cx="131.7" cy="306.4" r="1.6"/><circle cx="133.7" cy="313.7" r="1.6"/><circle cx="135.6" cy="326.6" r="1.6"/><circle cx="137.7" cy="305.7" r="1.6"/><circle cx="139.8" cy="316.7" r="1.6"/><circle cx="142.1" cy="305.9" r="1.6"/><circle cx="144.1" cy="312.7" r="1.6"/><circle cx="146.3" cy="310.4" r="1.6"/><circle cx="148.3" cy="306.7" r="1.6"/><circle cx="150.6" cy="298.7" r="1.6"/><circle cx="152.6" cy="307.4" r="1.6"/><circle cx="154.6" cy="313.4" r="1.6"/><circle cx="156.8" cy="310.9" r="1.6"/><circle cx="158.8" cy="313.9" r="1.6"/><circle cx="160.8" cy="316.6" r="1.6"/><circle cx="162.9" cy="307.7" r="1.6"/><circle cx="165.2" cy="314.4" r="1.6"/><circle cx="167.2" cy="307.5" r="1.6"/><circle cx="168.7" cy="314.5" r="1.6"/><circle cx="171" cy="315.2" r="1.6"/><circle cx="173.4" cy="295.9" r="1.6"/><circle cx="175.5" cy="299.5" r="1.6"/><circle cx="177.3" cy="301.3" r="1.6"/><circle cx="179.2" cy="292.5" r="1.6"/><circle cx="181.3" cy="287" r="1.6"/><circle cx="183.9" cy="269.7" r="1.6"/><circle cx="185.3" cy="285.4" r="1.6"/><circle cx="187.5" cy="300.2" r="1.6"/><circle cx="190" cy="298" r="1.6"/><circle cx="191.9" cy="303.3" r="1.6"/><circle cx="194.1" cy="304.5" r="1.6"/><circle cx="196.3" cy="304.8" r="1.6"/><circle cx="198.6" cy="310" r="1.6"/><circle cx="200.5" cy="315.5" r="1.6"/><circle cx="202.6" cy="295.4" r="1.6"/><circle cx="205" cy="316" r="1.6"/><circle cx="207" cy="310.7" r="1.6"/><circle cx="208.9" cy="313.3" r="1.6"/><circle cx="211.2" cy="318.9" r="1.6"/><circle cx="213.1" cy="317.4" r="1.6"/><circle cx="215.1" cy="320" r="1.6"/><circle cx="217.1" cy="314.1" r="1.6"/><circle cx="219.3" cy="320" r="1.6"/><circle cx="221.6" cy="321.6" r="1.6"/><circle cx="223.5" cy="316.7" r="1.6"/><circle cx="227.6" cy="320.5" r="1.6"/><circle cx="231.9" cy="321.6" r="1.6"/><circle cx="236.1" cy="318.9" r="1.6"/><circle cx="240.3" cy="316.7" r="1.6"/><circle cx="244.2" cy="313.5" r="1.6"/><circle cx="248.4" cy="320.2" r="1.6"/></g>
<g fill="#1565b4"><circle cx="81.5" cy="319.1" r="1.6"/><circle cx="86.7" cy="321.4" r="1.6"/><circle cx="91.7" cy="322.1" r="1.6"/><circle cx="93.1" cy="321.4" r="1.6"/><circle cx="94.4" cy="320.7" r="1.6"/><circle cx="96.1" cy="315.4" r="1.6"/><circle cx="98.1" cy="327" r="1.6"/><circle cx="100.1" cy="324.4" r="1.6"/><circle cx="102.4" cy="319.7" r="1.6"/><circle cx="104.3" cy="321.7" r="1.6"/><circle cx="106.6" cy="322.4" r="1.6"/><circle cx="108.6" cy="318.9" r="1.6"/><circle cx="110.6" cy="318.9" r="1.6"/><circle cx="112.5" cy="315.3" r="1.6"/><circle cx="114.6" cy="323.6" r="1.6"/><circle cx="116.8" cy="323.6" r="1.6"/><circle cx="118.8" cy="326.5" r="1.6"/><circle cx="121" cy="319.6" r="1.6"/><circle cx="123.5" cy="328.4" r="1.6"/><circle cx="125.5" cy="328.5" r="1.6"/><circle cx="127.6" cy="328.3" r="1.6"/><circle cx="129.8" cy="328" r="1.6"/><circle cx="131.8" cy="328" r="1.6"/><circle cx="133.2" cy="324.2" r="1.6"/><circle cx="135.4" cy="323.7" r="1.6"/><circle cx="137.8" cy="319.4" r="1.6"/><circle cx="139.7" cy="323.5" r="1.6"/><circle cx="142" cy="327.8" r="1.6"/><circle cx="144.1" cy="320" r="1.6"/><circle cx="146.3" cy="322.9" r="1.6"/><circle cx="148.3" cy="324.5" r="1.6"/><circle cx="150.5" cy="319.3" r="1.6"/><circle cx="225.4" cy="325.6" r="1.6"/><circle cx="227.6" cy="322.5" r="1.6"/><circle cx="231.9" cy="323.6" r="1.6"/><circle cx="236.1" cy="329.8" r="1.6"/><circle cx="240.3" cy="319.1" r="1.6"/><circle cx="244.2" cy="322.3" r="1.6"/><circle cx="248.4" cy="313" r="1.6"/><circle cx="252.6" cy="322.3" r="1.6"/></g>
<rect x="73.1" y="210.4" width="188.1" height="141.4" fill="none" stroke="#000" stroke-width="1.2"/>
<path d="M91.95 351.8v-6M91.95 210.4v6M112.9 351.8v-3M112.9 210.4v3M133.84 351.8v-3M133.84 210.4v3M154.79 351.8v-3M154.79 210.4v3M175.74 351.8v-3M175.74 210.4v3M196.68 351.8v-6M196.68 210.4v6M217.63 351.8v-3M217.63 210.4v3M238.58 351.8v-3M238.58 210.4v3M259.52 351.8v-3M259.52 210.4v3M73.1 351.8h6M261.2 351.8h-6M73.1 340.02h3M261.2 340.02h-3M73.1 328.23h3M261.2 328.23h-3M73.1 316.45h3M261.2 316.45h-3M73.1 304.67h6M261.2 304.67h-6M73.1 292.88h3M261.2 292.88h-3M73.1 281.1h3M261.2 281.1h-3M73.1 269.32h3M261.2 269.32h-3M73.1 257.53h6M261.2 257.53h-6M73.1 245.75h3M261.2 245.75h-3M73.1 233.97h3M261.2 233.97h-3M73.1 222.18h3M261.2 222.18h-3M73.1 210.4h6M261.2 210.4h-6" stroke="#000" stroke-width="1.2" fill="none"/>
<text transform="translate(91.95 367.4) scale(1 1.06)" font-size="15.6" text-anchor="middle">30</text>
<text transform="translate(196.68 367.4) scale(1 1.06)" font-size="15.6" text-anchor="middle">40</text>
<text transform="translate(69.1 357.7) scale(1 1.06)" font-size="15.6" text-anchor="end">0</text>
<text transform="translate(69.1 310.57) scale(1 1.06)" font-size="15.6" text-anchor="end">200</text>
<text transform="translate(69.1 263.43) scale(1 1.06)" font-size="15.6" text-anchor="end">400</text>
<text transform="translate(69.1 216.3) scale(1 1.06)" font-size="15.6" text-anchor="end">600</text>
<text x="167.15" y="386.6" font-size="16.3" text-anchor="middle">Set position (mm)</text>
<g transform="translate(38.3 0) rotate(-90)" font-size="16"><text x="-336.3" y="0">Res. at iso.</text><text x="-261.2" y="-1.2">(</text><text x="-255.7" y="-2.2" font-style="italic" textLength="26" lengthAdjust="spacingAndGlyphs">μm</text><text x="-229.5" y="-1.2">)</text></g>
<path d="M160.1 218.9V230.5M158 218.9H162.2M158 230.5H162.2" stroke="#f4a582" stroke-width="0.9" fill="none"/>
<circle cx="160.1" cy="224.7" r="1.6" fill="#c80c16"/>
<path d="M160.1 234.8V246M158 234.8H162.2M158 246H162.2" stroke="#92c5de" stroke-width="0.9" fill="none"/>
<circle cx="160.1" cy="240.4" r="1.6" fill="#1565b4"/>
<text transform="translate(180.5 228.8) scale(1 1.12)" font-size="11.15" class="lg">Matching index</text>
<text transform="translate(180.5 244.6) scale(1 1.12)" font-size="11.15" class="lg">Sobel method</text>
<text x="6.6" y="392.8" font-size="14" style="stroke:none"><tspan font-size="12.9">(</tspan><tspan font-weight="bold" dx="0.3">c</tspan><tspan font-size="12.9" dx="0.3">)</tspan></text></g>
<g id="pd"><path d="M368.9 317.2V326.2M366.8 317.2H371M366.8 326.2H371M375.9 323.9V331.9M373.8 323.9H378M373.8 331.9H378M379.3 320.8V328.8M377.2 320.8H381.4M377.2 328.8H381.4M382.4 321.4V329.4M380.3 321.4H384.5M380.3 329.4H384.5M384.6 320.2V328.2M382.5 320.2H386.7M382.5 328.2H386.7M386.7 320.8V328.8M384.6 320.8H388.8M384.6 328.8H388.8M388.6 321.1V329.1M386.5 321.1H390.7M386.5 329.1H390.7M390.8 317.7V325.7M388.7 317.7H392.9M388.7 325.7H392.9M397 322.1V330.1M394.9 322.1H399.1M394.9 330.1H399.1M399.2 325.6V333.6M397.1 325.6H401.3M397.1 333.6H401.3M400.5 324.8V332.8M398.4 324.8H402.6M398.4 332.8H402.6M402.9 321.4V329.4M400.8 321.4H405M400.8 329.4H405M403.6 322.6V330.6M401.5 322.6H405.7M401.5 330.6H405.7M405.5 317.8V325.8M403.4 317.8H407.6M403.4 325.8H407.6M407.5 321V329M405.4 321H409.6M405.4 329H409.6M411.6 324.8V332.8M409.5 324.8H413.7M409.5 332.8H413.7M415.9 318.7V326.7M413.8 318.7H418M413.8 326.7H418M420.2 321.9V329.9M418.1 321.9H422.3M418.1 329.9H422.3M422.3 325.4V333.4M420.2 325.4H424.4M420.2 333.4H424.4M428.6 321.5V329.5M426.5 321.5H430.7M426.5 329.5H430.7M430.7 318.7V326.7M428.6 318.7H432.8M428.6 326.7H432.8M432.5 316.9V324.9M430.4 316.9H434.6M430.4 324.9H434.6M434.7 312.9V319.9M432.6 312.9H436.8M432.6 319.9H436.8M437.1 319V327M435 319H439.2M435 327H439.2M439.1 317.8V325.8M437 317.8H441.2M437 325.8H441.2M441.3 280.3V311.3M439.2 280.3H443.4M439.2 311.3H443.4M443.1 326.4V334.4M441 326.4H445.2M441 334.4H445.2M445.2 326.4V334.4M443.1 326.4H447.3M443.1 334.4H447.3M447.5 320.4V328.4M445.4 320.4H449.6M445.4 328.4H449.6M449.5 317.2V325.2M447.4 317.2H451.6M447.4 325.2H451.6M451.5 322.7V330.7M449.4 322.7H453.6M449.4 330.7H453.6M453.5 314.3V322.3M451.4 314.3H455.6M451.4 322.3H455.6M455.4 326.3V334.3M453.3 326.3H457.5M453.3 334.3H457.5M457.6 317.4V325.4M455.5 317.4H459.7M455.5 325.4H459.7M459.9 320.2V328.2M457.8 320.2H462M457.8 328.2H462M462.1 321.3V329.3M460 321.3H464.2M460 329.3H464.2M464.3 317.3V325.3M462.2 317.3H466.4M462.2 325.3H466.4M466.4 317.1V325.1M464.3 317.1H468.5M464.3 325.1H468.5M468.2 304.5V320.1M466.1 304.5H470.3M466.1 320.1H470.3M470.2 318.5V326.5M468.1 318.5H472.3M468.1 326.5H472.3M472.5 317.5V325.5M470.4 317.5H474.6M470.4 325.5H474.6M474.5 315.3V323.3M472.4 315.3H476.6M472.4 323.3H476.6M476.7 297.8V310.8M474.6 297.8H478.8M474.6 310.8H478.8M478.7 266.6V294.6M476.6 266.6H480.8M476.6 294.6H480.8M480.8 271V297M478.7 271H482.9M478.7 297H482.9M483 272.4V301.4M480.9 272.4H485.1M480.9 301.4H485.1M484.9 278.7V302.7M482.8 278.7H487M482.8 302.7H487M487.1 309.1V317.1M485 309.1H489.2M485 317.1H489.2M489.2 279.5V304.7M487.1 279.5H491.3M487.1 304.7H491.3M491.3 296.1V312.1M489.2 296.1H493.4M489.2 312.1H493.4M493.4 316.5V324.5M491.3 316.5H495.5M491.3 324.5H495.5M495 311.3V319.3M492.9 311.3H497.1M492.9 319.3H497.1M496.5 312V320M494.4 312H498.6M494.4 320H498.6M497.8 313.1V321.1M495.7 313.1H499.9M495.7 321.1H499.9M499.5 306.4V314.4M497.4 306.4H501.6M497.4 314.4H501.6M501.4 296.2V316.2M499.3 296.2H503.5M499.3 316.2H503.5M503.7 320.9V328.9M501.6 320.9H505.8M501.6 328.9H505.8M505.9 314.6V322.6M503.8 314.6H508M503.8 322.6H508M507.7 316.5V324.5M505.6 316.5H509.8M505.6 324.5H509.8M509.9 318.3V326.3M507.8 318.3H512M507.8 326.3H512M514.1 317.6V325.6M512 317.6H516.2M512 325.6H516.2M518.2 316.8V324.8M516.1 316.8H520.3M516.1 324.8H520.3M522.5 315.1V322.1M520.4 315.1H524.6M520.4 322.1H524.6" stroke="#f4a582" stroke-width="0.9" fill="none"/>
<path d="M363.5 335.5V339.5M361.4 335.5H365.6M361.4 339.5H365.6M368.9 323.3V329.3M366.8 323.3H371M366.8 329.3H371M373.9 324.1V330.1M371.8 324.1H376M371.8 330.1H376M376.4 319.1V325.1M374.3 319.1H378.5M374.3 325.1H378.5M378.4 324.1V330.1M376.3 324.1H380.5M376.3 330.1H380.5M380.5 319.6V325.6M378.4 319.6H382.6M378.4 325.6H382.6M382.4 316.9V322.9M380.3 316.9H384.5M380.3 322.9H384.5M384.2 315.9V321.9M382.1 315.9H386.3M382.1 321.9H386.3M386.1 316.6V322.6M384 316.6H388.2M384 322.6H388.2M388.3 317.5V323.5M386.2 317.5H390.4M386.2 323.5H390.4M390.8 322.8V328.8M388.7 322.8H392.9M388.7 328.8H392.9M392.9 318.7V324.7M390.8 318.7H395M390.8 324.7H395M395 320.6V326.6M392.9 320.6H397.1M392.9 326.6H397.1M397.3 325.3V331.3M395.2 325.3H399.4M395.2 331.3H399.4M401.2 323.8V329.8M399.1 323.8H403.3M399.1 329.8H403.3M403.5 320.6V326.6M401.4 320.6H405.6M401.4 326.6H405.6M405.6 321.1V327.1M403.5 321.1H407.7M403.5 327.1H407.7M407.7 325.2V331.2M405.6 325.2H409.8M405.6 331.2H409.8M409.5 322V328M407.4 322H411.6M407.4 328H411.6M411.6 327.9V333.9M409.5 327.9H413.7M409.5 333.9H413.7M413.8 324V330M411.7 324H415.9M411.7 330H415.9M416.2 328.4V334.4M414.1 328.4H418.3M414.1 334.4H418.3M418 327.3V333.3M415.9 327.3H420.1M415.9 333.3H420.1M420 321.5V327.5M417.9 321.5H422.1M417.9 327.5H422.1M422.3 325.6V331.6M420.2 325.6H424.4M420.2 331.6H424.4M424.1 324.3V330.3M422 324.3H426.2M422 330.3H426.2M426.4 322V328M424.3 322H428.5M424.3 328H428.5M428.4 317.9V323.9M426.3 317.9H430.5M426.3 323.9H430.5M430.7 323.4V329.4M428.6 323.4H432.8M428.6 329.4H432.8M432.5 325.8V331.8M430.4 325.8H434.6M430.4 331.8H434.6M434.7 320.9V326.9M432.6 320.9H436.8M432.6 326.9H436.8M436.8 329.5V335.5M434.7 329.5H438.9M434.7 335.5H438.9M438.9 321.5V327.5M436.8 321.5H441M436.8 327.5H441M440.8 330.8V336.8M438.7 330.8H442.9M438.7 336.8H442.9M443.6 316.3V322.3M441.5 316.3H445.7M441.5 322.3H445.7M445.4 316.3V322.3M443.3 316.3H447.5M443.3 322.3H447.5M447.2 325.3V331.3M445.1 325.3H449.3M445.1 331.3H449.3M526.4 320V326M524.3 320H528.5M524.3 326H528.5M530.5 318.9V324.9M528.4 318.9H532.6M528.4 324.9H532.6M534.8 318.6V324.6M532.7 318.6H536.9M532.7 324.6H536.9" stroke="#92c5de" stroke-width="0.9" fill="none"/>
<g fill="#c80c16"><circle cx="368.9" cy="321.7" r="1.6"/><circle cx="375.9" cy="327.9" r="1.6"/><circle cx="379.3" cy="324.8" r="1.6"/><circle cx="382.4" cy="325.4" r="1.6"/><circle cx="384.6" cy="324.2" r="1.6"/><circle cx="386.7" cy="324.8" r="1.6"/><circle cx="388.6" cy="325.1" r="1.6"/><circle cx="390.8" cy="321.7" r="1.6"/><circle cx="397" cy="326.1" r="1.6"/><circle cx="399.2" cy="329.6" r="1.6"/><circle cx="400.5" cy="328.8" r="1.6"/><circle cx="402.9" cy="325.4" r="1.6"/><circle cx="403.6" cy="326.6" r="1.6"/><circle cx="405.5" cy="321.8" r="1.6"/><circle cx="407.5" cy="325" r="1.6"/><circle cx="411.6" cy="328.8" r="1.6"/><circle cx="415.9" cy="322.7" r="1.6"/><circle cx="420.2" cy="325.9" r="1.6"/><circle cx="422.3" cy="329.4" r="1.6"/><circle cx="428.6" cy="325.5" r="1.6"/><circle cx="430.7" cy="322.7" r="1.6"/><circle cx="432.5" cy="320.9" r="1.6"/><circle cx="434.7" cy="316.4" r="1.6"/><circle cx="437.1" cy="323" r="1.6"/><circle cx="439.1" cy="321.8" r="1.6"/><circle cx="441.3" cy="295.8" r="1.6"/><circle cx="443.1" cy="330.4" r="1.6"/><circle cx="445.2" cy="330.4" r="1.6"/><circle cx="447.5" cy="324.4" r="1.6"/><circle cx="449.5" cy="321.2" r="1.6"/><circle cx="451.5" cy="326.7" r="1.6"/><circle cx="453.5" cy="318.3" r="1.6"/><circle cx="455.4" cy="330.3" r="1.6"/><circle cx="457.6" cy="321.4" r="1.6"/><circle cx="459.9" cy="324.2" r="1.6"/><circle cx="462.1" cy="325.3" r="1.6"/><circle cx="464.3" cy="321.3" r="1.6"/><circle cx="466.4" cy="321.1" r="1.6"/><circle cx="468.2" cy="312.3" r="1.6"/><circle cx="470.2" cy="322.5" r="1.6"/><circle cx="472.5" cy="321.5" r="1.6"/><circle cx="474.5" cy="319.3" r="1.6"/><circle cx="476.7" cy="304.3" r="1.6"/><circle cx="478.7" cy="280.6" r="1.6"/><circle cx="480.8" cy="284" r="1.6"/><circle cx="483" cy="286.9" r="1.6"/><circle cx="484.9" cy="290.7" r="1.6"/><circle cx="487.1" cy="313.1" r="1.6"/><circle cx="489.2" cy="292.1" r="1.6"/><circle cx="491.3" cy="304.1" r="1.6"/><circle cx="493.4" cy="320.5" r="1.6"/><circle cx="495" cy="315.3" r="1.6"/><circle cx="496.5" cy="316" r="1.6"/><circle cx="497.8" cy="317.1" r="1.6"/><circle cx="499.5" cy="310.4" r="1.6"/><circle cx="501.4" cy="306.2" r="1.6"/><circle cx="503.7" cy="324.9" r="1.6"/><circle cx="505.9" cy="318.6" r="1.6"/><circle cx="507.7" cy="320.5" r="1.6"/><circle cx="509.9" cy="322.3" r="1.6"/><circle cx="514.1" cy="321.6" r="1.6"/><circle cx="518.2" cy="320.8" r="1.6"/><circle cx="522.5" cy="318.6" r="1.6"/></g>
<g fill="#1565b4"><circle cx="363.5" cy="337.5" r="1.6"/><circle cx="368.9" cy="326.3" r="1.6"/><circle cx="373.9" cy="327.1" r="1.6"/><circle cx="376.4" cy="322.1" r="1.6"/><circle cx="378.4" cy="327.1" r="1.6"/><circle cx="380.5" cy="322.6" r="1.6"/><circle cx="382.4" cy="319.9" r="1.6"/><circle cx="384.2" cy="318.9" r="1.6"/><circle cx="386.1" cy="319.6" r="1.6"/><circle cx="388.3" cy="320.5" r="1.6"/><circle cx="390.8" cy="325.8" r="1.6"/><circle cx="392.9" cy="321.7" r="1.6"/><circle cx="395" cy="323.6" r="1.6"/><circle cx="397.3" cy="328.3" r="1.6"/><circle cx="401.2" cy="326.8" r="1.6"/><circle cx="403.5" cy="323.6" r="1.6"/><circle cx="405.6" cy="324.1" r="1.6"/><circle cx="407.7" cy="328.2" r="1.6"/><circle cx="409.5" cy="325" r="1.6"/><circle cx="411.6" cy="330.9" r="1.6"/><circle cx="413.8" cy="327" r="1.6"/><circle cx="416.2" cy="331.4" r="1.6"/><circle cx="418" cy="330.3" r="1.6"/><circle cx="420" cy="324.5" r="1.6"/><circle cx="422.3" cy="328.6" r="1.6"/><circle cx="424.1" cy="327.3" r="1.6"/><circle cx="426.4" cy="325" r="1.6"/><circle cx="428.4" cy="320.9" r="1.6"/><circle cx="430.7" cy="326.4" r="1.6"/><circle cx="432.5" cy="328.8" r="1.6"/><circle cx="434.7" cy="323.9" r="1.6"/><circle cx="436.8" cy="332.5" r="1.6"/><circle cx="438.9" cy="324.5" r="1.6"/><circle cx="440.8" cy="333.8" r="1.6"/><circle cx="443.6" cy="319.3" r="1.6"/><circle cx="445.4" cy="319.3" r="1.6"/><circle cx="447.2" cy="328.3" r="1.6"/><circle cx="526.4" cy="323" r="1.6"/><circle cx="530.5" cy="321.9" r="1.6"/><circle cx="534.8" cy="321.6" r="1.6"/></g>
<rect x="355.4" y="210.4" width="188.2" height="141.4" fill="none" stroke="#000" stroke-width="1.2"/>
<path d="M365.85 351.8v-3M365.85 210.4v3M386.75 351.8v-6M386.75 210.4v6M407.65 351.8v-3M407.65 210.4v3M428.55 351.8v-3M428.55 210.4v3M449.45 351.8v-3M449.45 210.4v3M470.35 351.8v-3M470.35 210.4v3M491.25 351.8v-6M491.25 210.4v6M512.15 351.8v-3M512.15 210.4v3M533.05 351.8v-3M533.05 210.4v3M355.4 351.8h6M543.6 351.8h-6M355.4 340.02h3M543.6 340.02h-3M355.4 328.23h3M543.6 328.23h-3M355.4 316.45h3M543.6 316.45h-3M355.4 304.67h6M543.6 304.67h-6M355.4 292.88h3M543.6 292.88h-3M355.4 281.1h3M543.6 281.1h-3M355.4 269.32h3M543.6 269.32h-3M355.4 257.53h6M543.6 257.53h-6M355.4 245.75h3M543.6 245.75h-3M355.4 233.97h3M543.6 233.97h-3M355.4 222.18h3M543.6 222.18h-3M355.4 210.4h6M543.6 210.4h-6" stroke="#000" stroke-width="1.2" fill="none"/>
<text transform="translate(386.75 367.4) scale(1 1.06)" font-size="15.6" text-anchor="middle">30</text>
<text transform="translate(491.25 367.4) scale(1 1.06)" font-size="15.6" text-anchor="middle">40</text>
<text transform="translate(351.4 357.7) scale(1 1.06)" font-size="15.6" text-anchor="end">0</text>
<text transform="translate(351.4 310.57) scale(1 1.06)" font-size="15.6" text-anchor="end">200</text>
<text transform="translate(351.4 263.43) scale(1 1.06)" font-size="15.6" text-anchor="end">400</text>
<text transform="translate(351.4 216.3) scale(1 1.06)" font-size="15.6" text-anchor="end">600</text>
<text x="449.5" y="386.6" font-size="16.3" text-anchor="middle">Set position (mm)</text>
<g transform="translate(320.6 0) rotate(-90)" font-size="16"><text x="-336.3" y="0">Res. at iso.</text><text x="-261.2" y="-1.2">(</text><text x="-255.7" y="-2.2" font-style="italic" textLength="26" lengthAdjust="spacingAndGlyphs">μm</text><text x="-229.5" y="-1.2">)</text></g>
<path d="M442.4 218.9V230.5M440.3 218.9H444.5M440.3 230.5H444.5" stroke="#f4a582" stroke-width="0.9" fill="none"/>
<circle cx="442.4" cy="224.7" r="1.6" fill="#c80c16"/>
<path d="M442.4 234.8V246M440.3 234.8H444.5M440.3 246H444.5" stroke="#92c5de" stroke-width="0.9" fill="none"/>
<circle cx="442.4" cy="240.4" r="1.6" fill="#1565b4"/>
<text transform="translate(462.8 228.8) scale(1 1.12)" font-size="11.15" class="lg">Matching index</text>
<text transform="translate(462.8 244.6) scale(1 1.12)" font-size="11.15" class="lg">Sobel method</text>
<text x="287.3" y="392.8" font-size="14" style="stroke:none"><tspan font-size="12.9">(</tspan><tspan font-weight="bold" dx="0.3">d</tspan><tspan font-size="12.9" dx="0.3">)</tspan></text></g>
</svg>
</body></html>
